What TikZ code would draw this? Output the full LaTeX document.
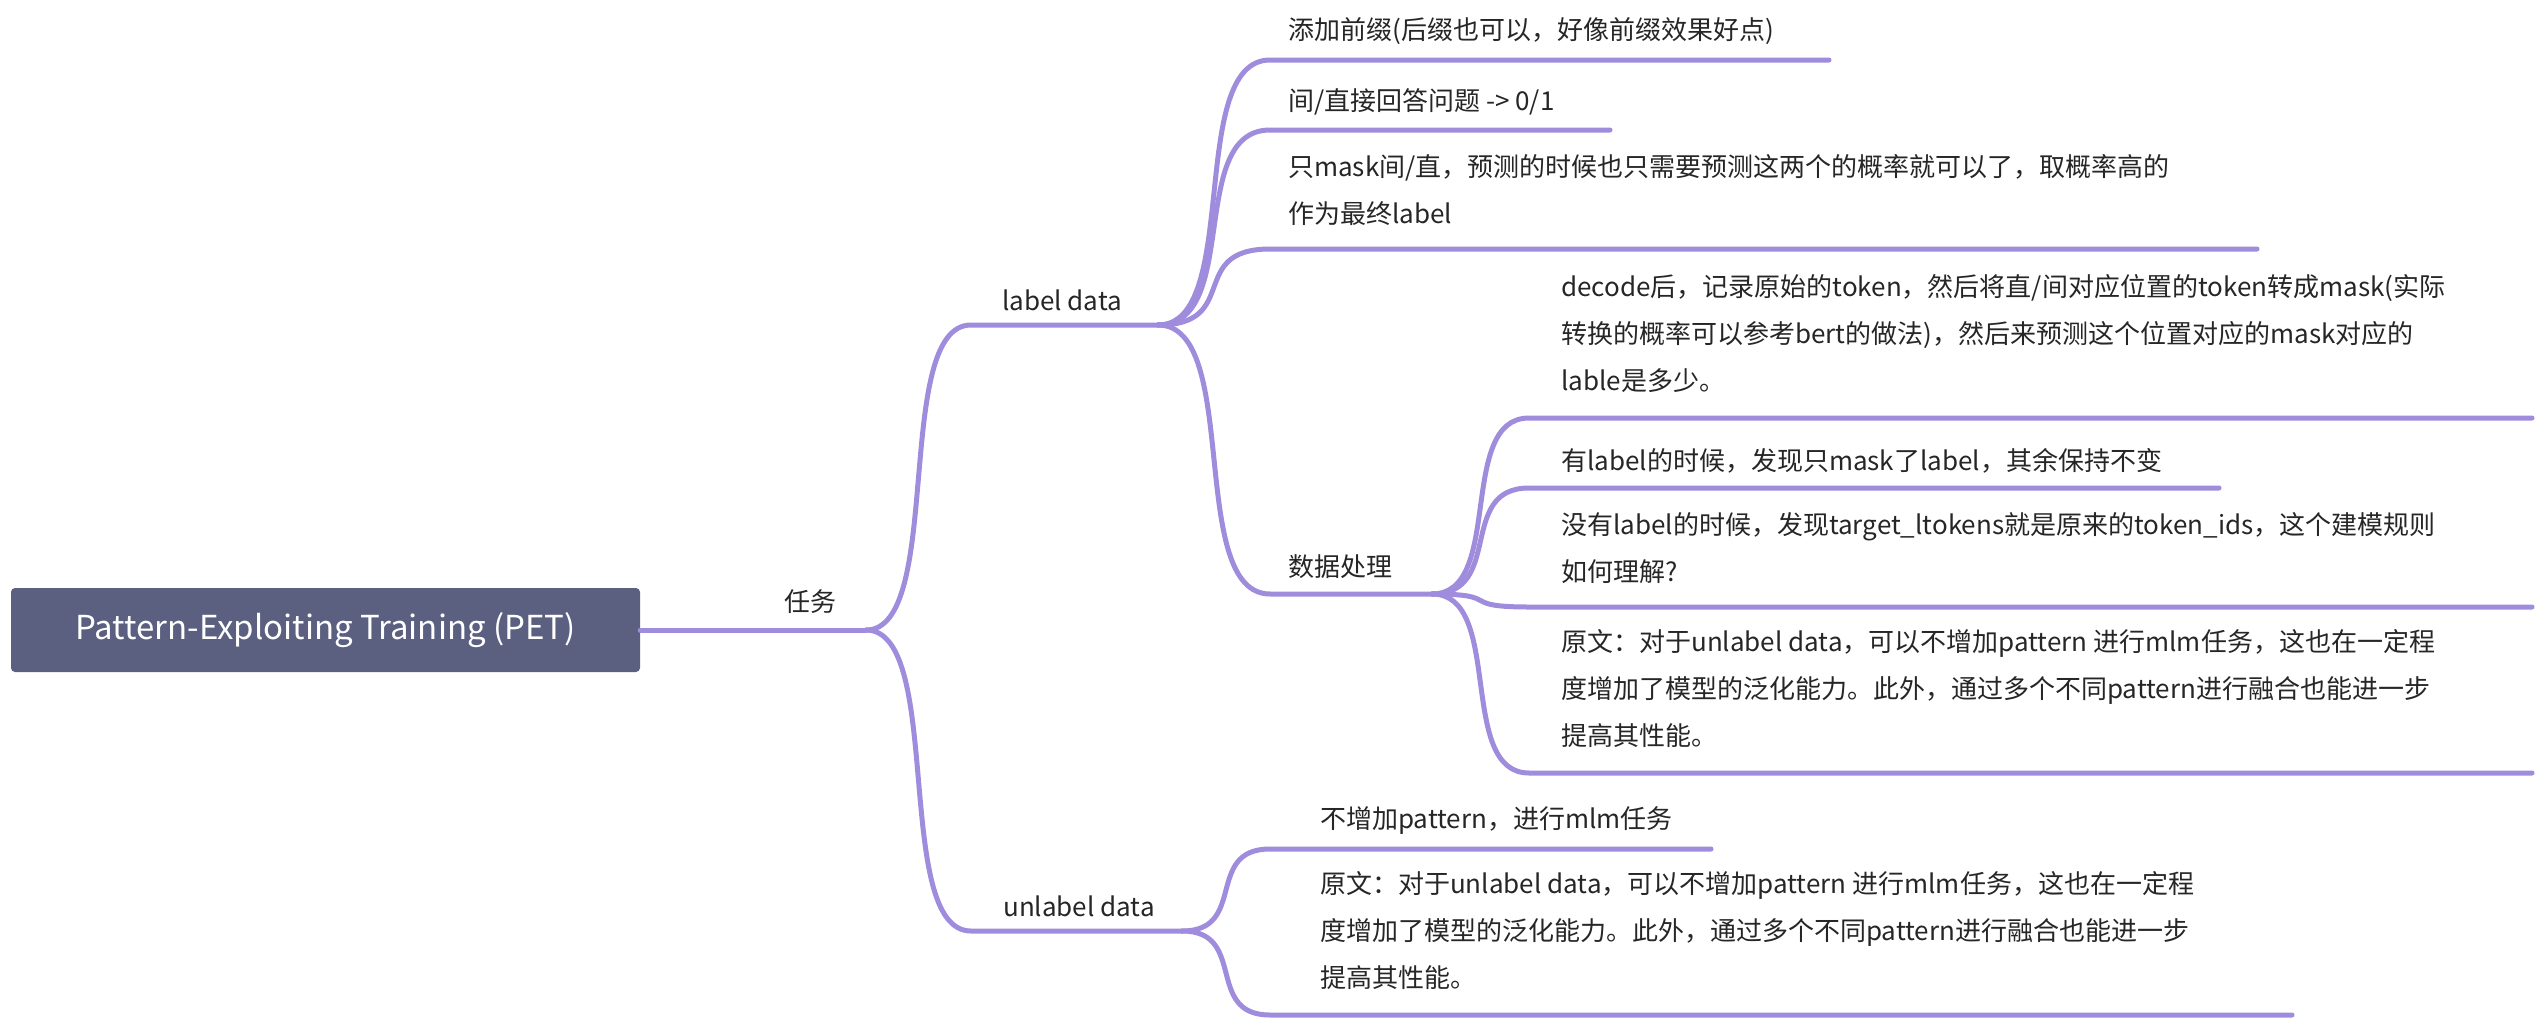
\documentclass[tikz,border=0pt]{standalone}
\usepackage{fontspec}
\setmainfont{Noto Sans CJK SC}
\begin{document}
\begin{tikzpicture}[x=1pt,y=-1pt,
  br/.style={draw=edgec,line width=5pt,line cap=round},
  txt/.style={anchor=west,inner sep=0pt,align=left,text=black!85,font=\fontsize{26}{47}\selectfont},
  ctxt/.style={anchor=center,inner sep=0pt,text=black!85,font=\fontsize{26}{47}\selectfont}]
\definecolor{edgec}{HTML}{A08CDC}
\definecolor{rootc}{HTML}{5B6081}
\useasboundingbox (0,0) rectangle (2538,1020);
\def\cv(#1,#2)(#3,#4){(#1,#2) .. controls ({#1+0.75*(#3-#1)},#2) and ({#1+0.25*(#3-#1)},#4) .. (#3,#4)}
% root
\node[fill=rootc,rounded corners=4pt,minimum width=629pt,minimum height=84pt,inner sep=0pt,text=white,font=\fontsize{33}{40}\selectfont] (root) at (325.5,630) {Pattern-Exploiting Training (PET)};
\coordinate (t) at (866,630);
\draw[br] (root.east) -- (t);
\node[ctxt] (tn) at (810,602) {任务};
% level 2
\coordinate (ld0) at (971,325); \coordinate (ld) at (1158,325);
\coordinate (ud0) at (971,931); \coordinate (ud) at (1182,931);
\draw[br] \cv(866,630)(971,325) -- (ld);
\draw[br] \cv(866,630)(971,931) -- (ud);
\node[ctxt] (ldn) at (1062,300) {label data};
\node[ctxt] (udn) at (1079,906) {unlabel data};
% label data children
\draw[br] \cv(1158,325)(1270,60) -- (1829,60);
\draw[br] \cv(1158,325)(1270,130) -- (1610,130);
\draw[br] \cv(1158,325)(1270,249) -- (2257,249);
\draw[br] \cv(1158,325)(1270,594) -- (1432,594);
\node[txt] (a1) at (1288,31) {添加前缀(后缀也可以，好像前缀效果好点)};
\node[txt] (a2) at (1288,102) {间/直接回答问题 -> 0/1};
\node[txt,anchor=north west] (a3) at (1288,154) {只mask间/直，预测的时候也只需要预测这两个的概率就可以了，取概率高的\\作为最终label};
\node[txt] (a4) at (1288,567) {数据处理};
% 数据处理 children
\draw[br] \cv(1432,594)(1529,418) -- (2532,418);
\draw[br] \cv(1432,594)(1529,488) -- (2219,488);
\draw[br] \cv(1432,594)(1529,607) -- (2532,607);
\draw[br] \cv(1432,594)(1529,773) -- (2532,773);
\node[txt,anchor=north west] (b1) at (1561,274) {decode后，记录原始的token，然后将直/间对应位置的token转成mask(实际\\转换的概率可以参考bert的做法)，然后来预测这个位置对应的mask对应的\\lable是多少。};
\node[txt] (b2) at (1561,461) {有label的时候，发现只mask了label，其余保持不变};
\node[txt,anchor=north west] (b3) at (1561,512) {没有label的时候，发现target\_ltokens就是原来的token\_ids，这个建模规则\\如何理解?};
\node[txt,anchor=north west] (b4) at (1561,629) {原文：对于unlabel data，可以不增加pattern 进行mlm任务，这也在一定程\\度增加了模型的泛化能力。此外，通过多个不同pattern进行融合也能进一步\\提高其性能。};
% unlabel children
\draw[br] \cv(1182,931)(1270,849) -- (1711,849);
\draw[br] \cv(1182,931)(1270,1015) -- (2292,1015);
\node[txt] (c1) at (1320,821) {不增加pattern，进行mlm任务};
\node[txt,anchor=north west] (c2) at (1320,871) {原文：对于unlabel data，可以不增加pattern 进行mlm任务，这也在一定程\\度增加了模型的泛化能力。此外，通过多个不同pattern进行融合也能进一步\\提高其性能。};
\end{tikzpicture}
\end{document}
